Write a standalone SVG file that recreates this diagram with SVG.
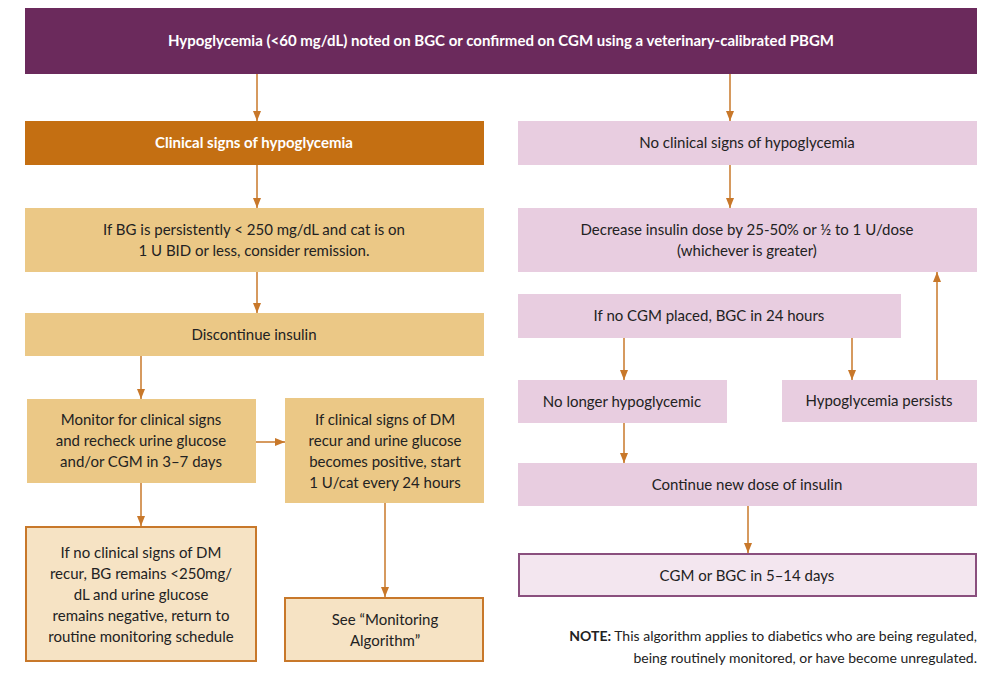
<svg xmlns="http://www.w3.org/2000/svg" width="1000" height="678" viewBox="0 0 1000 678">
<style>
text{font-family:"Lato","Liberation Sans",sans-serif;font-size:15px;fill:#222;text-anchor:middle}
.w{fill:#fff;font-weight:bold}
.b{font-weight:bold}
.tan{fill:#ebc886}
.lt{fill:#f6e3c4;stroke:#c8782a;stroke-width:2}
.pk{fill:#e8cde0}
.c line{stroke:#c8782a;stroke-width:1.5;marker-end:url(#a)}
</style>
<defs><marker id="a" viewBox="0 0 10 8" refX="10" refY="4" markerWidth="10" markerHeight="8" markerUnits="userSpaceOnUse" orient="auto"><path d="M0,0L10,4L0,8z" fill="#c8782a"/></marker></defs>
<rect width="1000" height="678" fill="#fff"/>
<g id="header"><rect x="25" y="8" width="952" height="66" fill="#6b2a5c"/><text class="w" x="501" y="46">Hypoglycemia (&lt;60 mg/dL) noted on BGC or confirmed on CGM using a veterinary-calibrated PBGM</text></g>
<g id="clin"><rect x="25" y="121" width="459" height="44" fill="#c46f12"/><text class="w" x="254" y="148">Clinical signs of hypoglycemia</text></g>
<g id="ifbg"><rect class="tan" x="25" y="208" width="459" height="64"/><text x="254" y="235">If BG is persistently &lt; 250 mg/dL and cat is on</text><text x="254" y="256">1 U BID or less, consider remission.</text></g>
<g id="disc"><rect class="tan" x="25" y="313" width="459" height="43"/><text x="254" y="340">Discontinue insulin</text></g>
<g id="mon"><rect class="tan" x="27" y="399" width="229" height="84"/><text x="141" y="425">Monitor for clinical signs</text><text x="141" y="446">and recheck urine glucose</text><text x="141" y="467">and/or CGM in 3–7 days</text></g>
<g id="recur"><rect class="tan" x="285" y="398" width="199" height="105"/><text x="385" y="425">If clinical signs of DM</text><text x="385" y="446">recur and urine glucose</text><text x="385" y="467">becomes positive, start</text><text x="385" y="488">1 U/cat every 24 hours</text></g>
<g id="norecur"><rect class="lt" x="26" y="527" width="230" height="134"/><text x="141" y="558">If no clinical signs of DM</text><text x="141" y="579">recur, BG remains &lt;250mg/</text><text x="141" y="600">dL and urine glucose</text><text x="141" y="621">remains negative, return to</text><text x="141" y="642">routine monitoring schedule</text></g>
<g id="see"><rect class="lt" x="285" y="598" width="198" height="63"/><text x="385" y="625">See “Monitoring</text><text x="385" y="646">Algorithm”</text></g>
<g id="noclin"><rect class="pk" x="518" y="121" width="459" height="44"/><text x="747" y="148">No clinical signs of hypoglycemia</text></g>
<g id="dec"><rect class="pk" x="518" y="208" width="459" height="64"/><text x="747" y="235">Decrease insulin dose by 25-50% or ½ to 1 U/dose</text><text x="747" y="256">(whichever is greater)</text></g>
<g id="nocgm"><rect class="pk" x="518" y="294" width="383" height="44"/><text x="709" y="321">If no CGM placed, BGC in 24 hours</text></g>
<g id="nolonger"><rect class="pk" x="518" y="380" width="209" height="43"/><text x="622" y="407">No longer hypoglycemic</text></g>
<g id="persists"><rect class="pk" x="782" y="380" width="195" height="42"/><text x="879" y="406">Hypoglycemia persists</text></g>
<g id="cont"><rect class="pk" x="518" y="463" width="459" height="43"/><text x="747" y="490">Continue new dose of insulin</text></g>
<g id="cgm"><rect x="519" y="554" width="457" height="42" fill="#f3e6ef" stroke="#8a4f7e" stroke-width="2"/><text x="747" y="581">CGM or BGC in 5–14 days</text></g>
<g id="note"><text x="977" y="641" style="text-anchor:end;font-size:14px"><tspan class="b">NOTE:</tspan> This algorithm applies to diabetics who are being regulated,</text><text x="977" y="663" style="text-anchor:end;font-size:14px">being routinely monitored, or have become unregulated.</text></g>
<g class="c" id="connectors">
<line x1="257" y1="74" x2="257" y2="121"/>
<line x1="730" y1="74" x2="730" y2="121"/>
<line x1="257" y1="165" x2="257" y2="208"/>
<line x1="257" y1="272" x2="257" y2="313"/>
<line x1="141" y1="356" x2="141" y2="399"/>
<line x1="141" y1="483" x2="141" y2="526"/>
<line x1="256" y1="442" x2="285" y2="442"/>
<line x1="385" y1="503" x2="385" y2="597"/>
<line x1="730" y1="165" x2="730" y2="208"/>
<line x1="624" y1="338" x2="624" y2="380"/>
<line x1="852" y1="338" x2="852" y2="380"/>
<line x1="937" y1="380" x2="937" y2="272"/>
<line x1="624" y1="423" x2="624" y2="463"/>
<line x1="748" y1="506" x2="748" y2="553"/>
</g>
</svg>
